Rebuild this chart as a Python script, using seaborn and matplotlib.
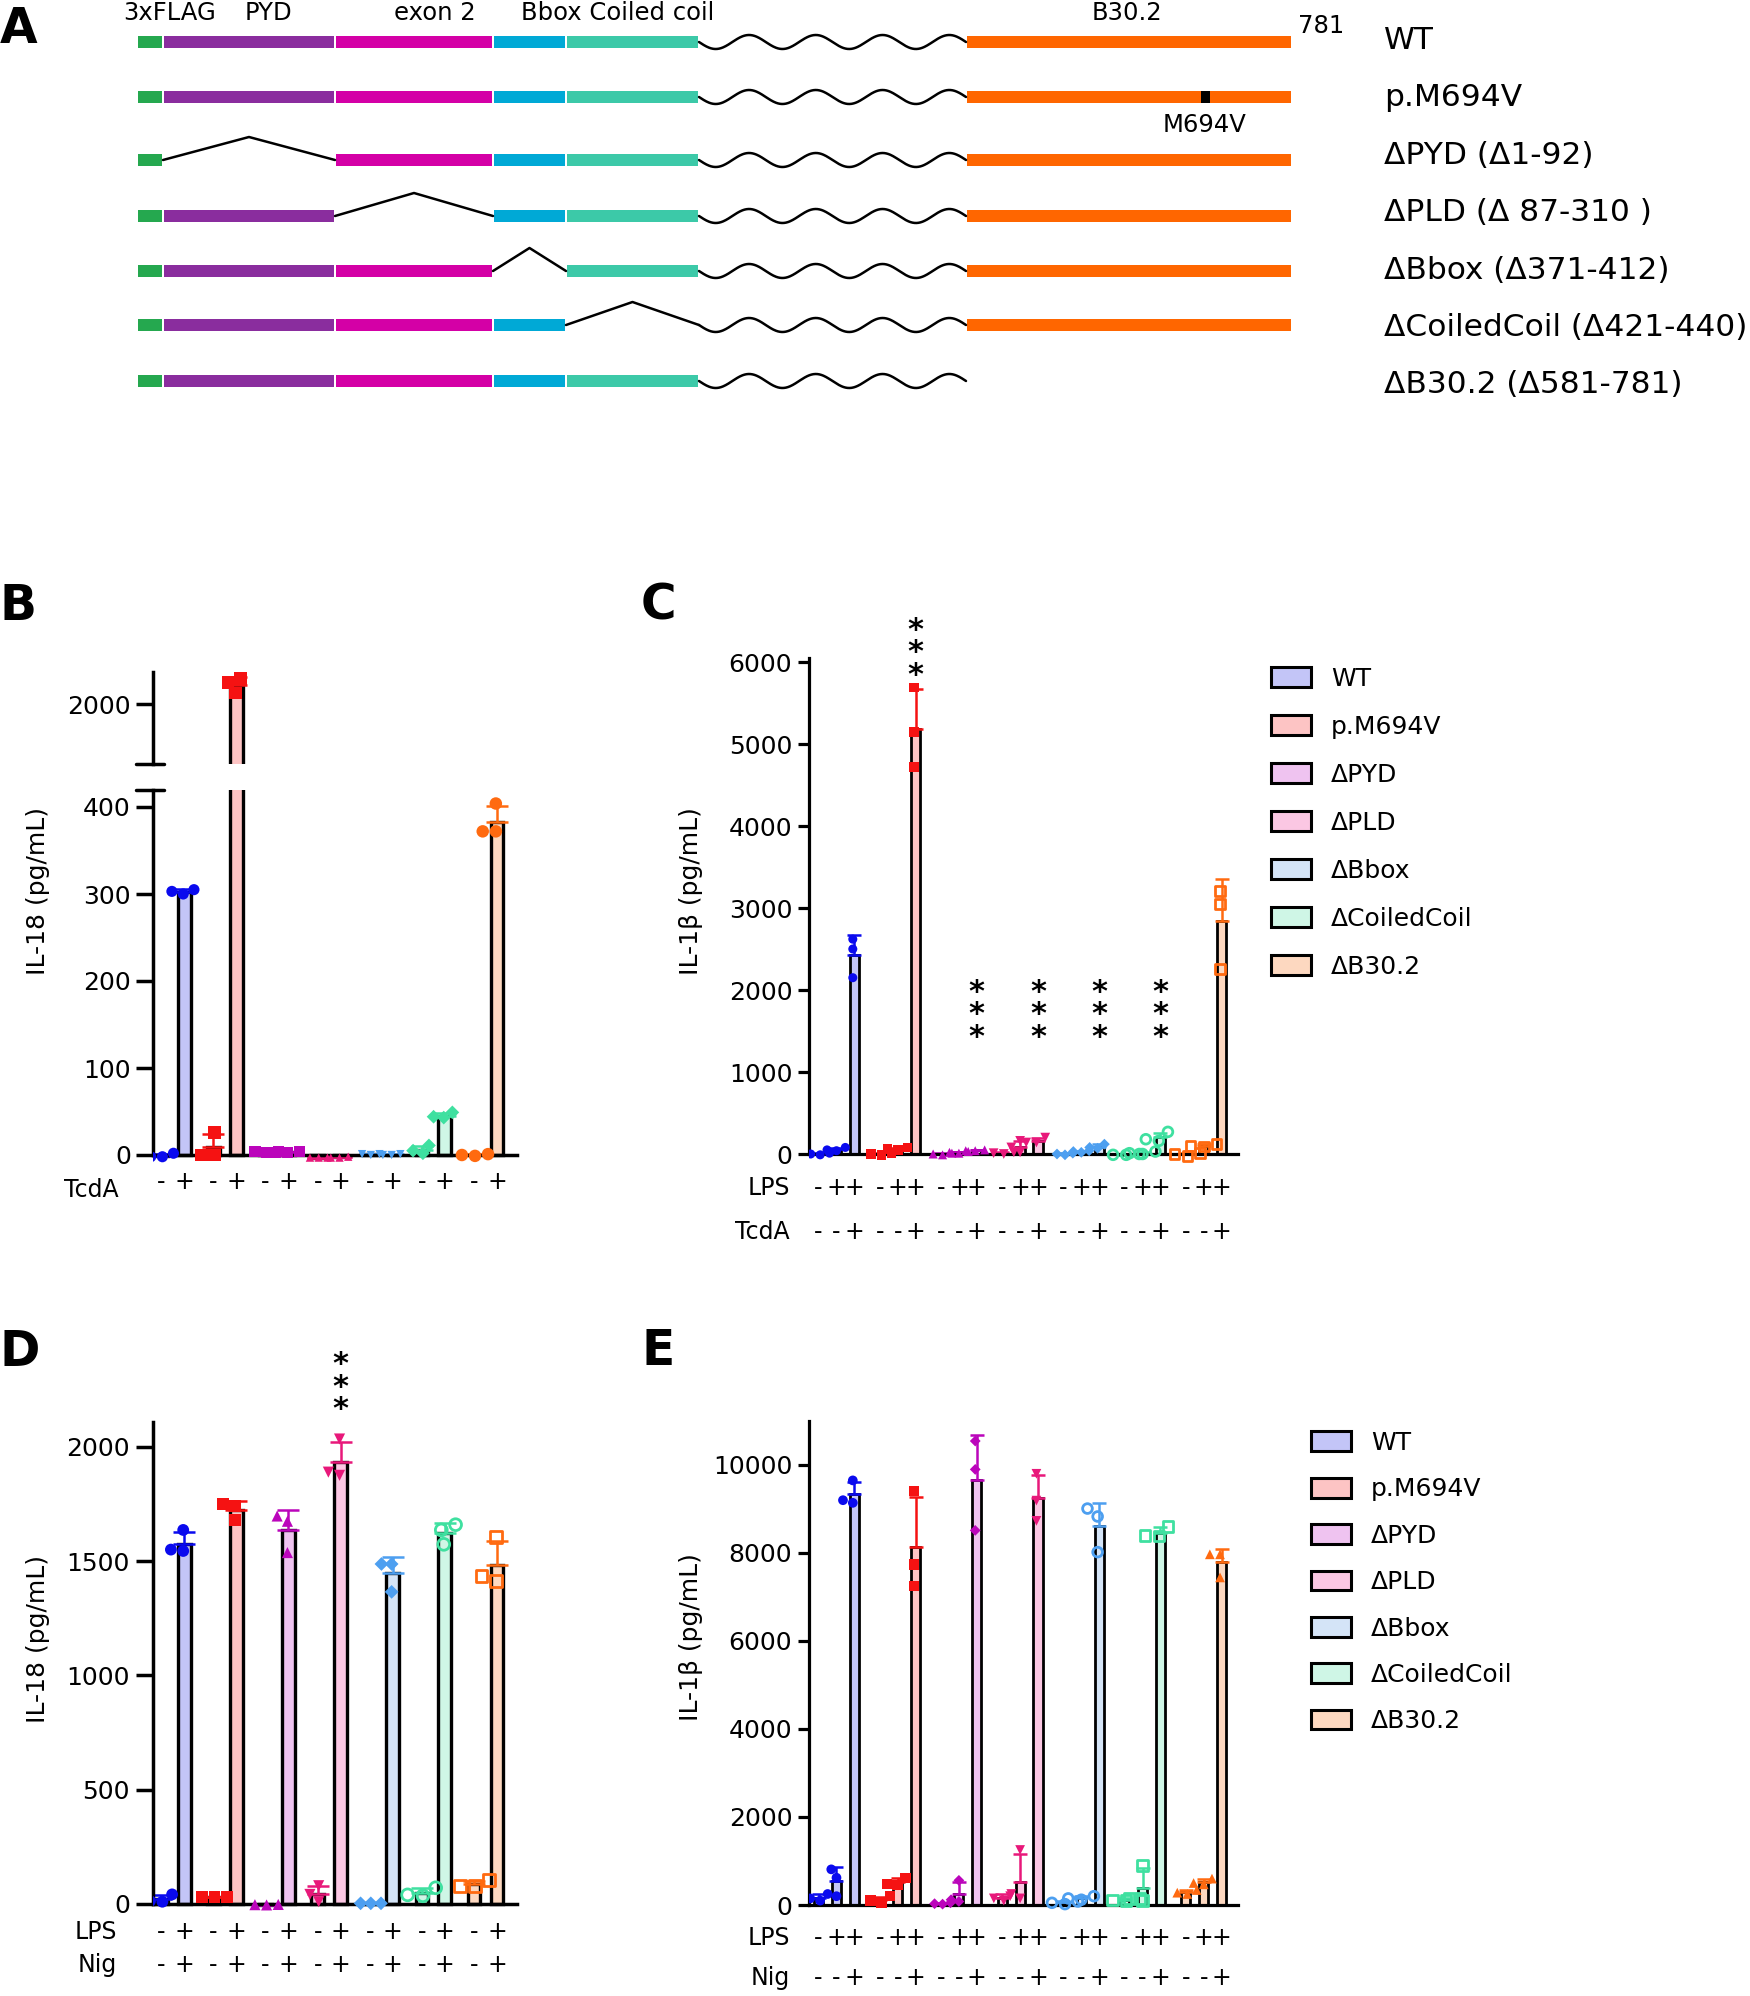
import warnings
warnings.filterwarnings("ignore")
import numpy as np
import pandas as pd
import matplotlib
matplotlib.use("Agg")
import matplotlib.pyplot as plt
import matplotlib.transforms as mtransforms
from matplotlib.patches import Patch, Rectangle
import seaborn as sns

sns.set_theme(style="ticks", rc={"axes.edgecolor": "black", "xtick.color": "black",
                                  "ytick.color": "black", "text.color": "black",
                                  "axes.labelcolor": "black"})
plt.rcParams["font.family"] = ["DejaVu Sans"]

W, H = 1750, 1996

# ---------------- shared categories / colours ----------------
constructs = ["WT", "p.M694V", "ΔPYD", "ΔPLD", "ΔBbox", "ΔCoiledCoil", "ΔB30.2"]
bar_fill = ["#c3c5f7", "#fdc4c4", "#efc3f0", "#fbc7e3", "#d4e4f7", "#cff6e6", "#fdd8c0"]
point_color = ["#0a0aee", "#f51212", "#bb05bb", "#e8187a", "#4d9ff0", "#3fe0a0", "#ff6a10"]

# ---------------- panel A (schematic) ----------------
A_labels = ["WT", "p.M694V", "ΔPYD (Δ1-92)", "ΔPLD (Δ 87-310 )", "ΔBbox (Δ371-412)",
            "ΔCoiledCoil (Δ421-440)", "ΔB30.2 (Δ581-781)"]
A_domain_colors = ["#25a84f", "#8a2d9e", "#d400a6", "#00a9d6", "#3cc9a8", None, "#ff6600"]
A_edges = [137, 163, 335, 493, 566, 699, 966, 1292]      # schematic domain boundaries
A_deleted = [None, None, 1, 2, 3, 4, 6]                    # index of deleted domain
A_mutation = 1205
A_top_labels = ["3xFLAG", "PYD", "exon 2", "Bbox Coiled coil", "B30.2"]
A_top_x = [170, 268, 435, 618, 1127]
A_length = "781"

# ---------------- panel B: IL-18, TcdA ----------------
B_treat = ["-", "+"]
B_minus = [[2, -2, -2], [26, 0, 0], [4, 4, 3], [-3, -3, -3], [1, 0, 1], [11, 5, 2], [1, 0, -1]]
B_plus = [[305, 300, 303], [2094, 2215, 2181], [3, 4, 3], [-3, -2, -3], [0, 1, 0],
          [49, 44, 43], [404, 372, 372]]

# ---------------- panel C: IL-1β, LPS + TcdA ----------------
C_LPS = ["-", "+", "+"]
C_TcdA = ["-", "-", "+"]
C_a = [[0, -10, 10], [-10, 0, 10], [-10, 0, 10], [20, 10, 0], [0, -10, 10], [-10, -10, 0], [-20, 10, 0]]
C_b = [[80, 40, 50], [80, 60, 50], [20, 10, 30], [160, 80, 20], [30, 20, 40], [30, 10, 0], [120, 90, 100]]
C_c = [[2620, 2500, 2150], [5690, 5150, 4720], [50, 40, 40], [200, 140, 140], [120, 80, 70],
       [270, 180, 160], [3210, 3050, 2260]]

# ---------------- panel D: IL-18, LPS + Nig ----------------
D_LPS = ["-", "+"]
D_Nig = ["-", "+"]
D_minus = [[42, 13, 10], [32, 30, 29], [-3, -4, -2], [80, 10, 42], [3, 3, 3], [71, 36, 40], [105, 80, 80]]
D_plus = [[1637, 1545, 1551], [1679, 1752, 1742], [1698, 1675, 1538], [1876, 1890, 2035],
          [1488, 1488, 1366], [1660, 1637, 1574], [1605, 1414, 1436]]

# ---------------- panel E: IL-1β, LPS + Nig ----------------
E_LPS = ["-", "+", "+"]
E_Nig = ["-", "-", "+"]
E_a = [[250, 100, 150], [200, 100, 50], [50, 30, 20], [250, 100, 150], [20, 50, 80], [150, 100, 120], [340, 280, 250]]
E_b = [[810, 620, 200], [620, 480, 450], [560, 120, 80], [1250, 200, 150], [200, 150, 120],
       [900, 150, 100], [600, 500, 470]]
E_c = [[9650, 9200, 9140], [9406, 7743, 7248], [10545, 9900, 8514], [9800, 9190, 8730],
       [9010, 8830, 8020], [8600, 8400, 8380], [7970, 7970, 7445]]


def long_df(groups, levels):
    rows = []
    for lvl, arr in zip(levels, groups):
        for c, vals in zip(constructs, arr):
            for v in vals:
                rows.append((c, lvl, v))
    return pd.DataFrame(rows, columns=["construct", "treat", "value"])


fig = plt.figure(figsize=(W / 100, H / 100), dpi=100)


def px_axes(left, right, y_v0, y_v1, v0, v1, ymin, ymax):
    ppu = (y_v0 - y_v1) / (v1 - v0)
    top = y_v0 - (ymax - v0) * ppu
    bottom = y_v0 + (v0 - ymin) * ppu
    ax = fig.add_axes([left / W, 1 - bottom / H, (right - left) / W, (bottom - top) / H])
    ax.set_ylim(ymin, ymax)
    return ax


def draw_panel(ax, df, levels, markers, sizes, open_idx, width, gap, bar_lw, err_lw, capsize):
    sns.barplot(data=df, x="construct", y="value", hue="treat", order=constructs, hue_order=levels,
                errorbar=None, width=width, gap=gap, palette={l: "white" for l in levels},
                edgecolor="black", linewidth=bar_lw, saturation=1, legend=False, ax=ax, zorder=1)
    pos = {}
    for j, cont in enumerate(ax.containers):
        for patch in cont:
            xc = patch.get_x() + patch.get_width() / 2
            gi = int(round(xc))
            patch.set_facecolor(bar_fill[gi])
            pos[(constructs[gi], levels[j])] = xc
    stats = df.groupby(["construct", "treat"])["value"].agg(["mean", "std"])
    for (c, t), xc in pos.items():
        m, s = stats.loc[(c, t)]
        ax.errorbar([xc], [m], yerr=[[0], [s]], fmt="none", ecolor=point_color[constructs.index(c)],
                    elinewidth=err_lw, capsize=capsize, capthick=err_lw, zorder=2)
    for ci, c in enumerate(constructs):
        sub = df[df["construct"] == c]
        n0 = len(ax.collections)
        sns.swarmplot(data=sub, x="construct", y="value", hue="treat", order=constructs,
                      hue_order=levels, dodge=True, palette={l: point_color[ci] for l in levels},
                      marker=markers[ci], size=sizes[ci], legend=False, ax=ax, zorder=3)
        if ci in open_idx:
            for coll in ax.collections[n0:]:
                coll.set_facecolor("none")
                coll.set_edgecolor(point_color[ci])
                coll.set_linewidth(2)
    ax.set_xlabel("")
    ax.set_ylabel("")
    return pos


def style_axis(ax, ticks, ymax, tick_len, spine_lw=2.5, bottom=True):
    ax.set_yticks(ticks)
    ax.set_yticklabels([str(t) for t in ticks])
    ax.tick_params(axis="y", labelsize=18, width=spine_lw, length=tick_len, pad=4)
    ax.tick_params(axis="x", length=0, labelbottom=False)
    sns.despine(ax=ax)
    ax.spines["left"].set_linewidth(spine_lw)
    ax.spines["left"].set_bounds(0 if bottom else ax.get_ylim()[0], ymax)
    if bottom:
        ax.spines["bottom"].set_position(("data", 0))
        ax.spines["bottom"].set_linewidth(spine_lw)
    else:
        ax.spines["bottom"].set_visible(False)


def under_labels(ax, pos, levels, row_labels, y_px, name, name_x, name_dy=0):
    tr = mtransforms.blended_transform_factory(ax.transData, fig.transFigure)
    for (c, t), xc in pos.items():
        ax.text(xc, 1 - y_px / H, row_labels[levels.index(t)], transform=tr,
                ha="center", va="center", fontsize=17)
    fig.text(name_x / W, 1 - (y_px + name_dy) / H, name, ha="right", va="center", fontsize=17)


def stars(ax, x, yval):
    ax.text(x, yval, "*\n*\n*", ha="center", va="center", fontsize=22, fontweight="bold",
            linespacing=0.72, clip_on=False)


# ================= Panel A =================
axA = fig.add_axes([0, 1 - 420 / H, 1, 420 / H])
axA.set_xlim(0, W)
axA.set_ylim(420, 0)
axA.axis("off")
A_row_y = [42, 97, 160, 216, 271, 325, 381]
for r, (lab, dele) in enumerate(zip(A_labels, A_deleted)):
    yc = A_row_y[r]
    for k, col in enumerate(A_domain_colors):
        x0, x1 = A_edges[k], A_edges[k + 1]
        if k == dele:
            if col is not None and k != len(A_domain_colors) - 1:
                axA.plot([x0, (x0 + x1) / 2, x1], [yc, yc - 23, yc], color="black", lw=1.8)
            continue
        if col is None:
            xs = np.linspace(x0, x1, 400)
            axA.plot(xs, yc + 7 * np.sin(2 * np.pi * 4 * (xs - x0) / (x1 - x0)), color="black", lw=1.8)
        else:
            axA.add_patch(Rectangle((x0 + 1, yc - 6), x1 - x0 - 2, 12, facecolor=col, edgecolor="none"))
    axA.text(1384, 49 + 57.4 * r, lab, fontsize=22.5, va="baseline", ha="left")
axA.add_patch(Rectangle((A_mutation - 4.5, A_row_y[1] - 6), 9, 12, facecolor="black", edgecolor="none"))
axA.text(A_mutation, 132, "M694V", fontsize=17.5, ha="center", va="baseline")
for lab, x in zip(A_top_labels, A_top_x):
    axA.text(x, 20, lab, fontsize=17.5, ha="center", va="baseline")
axA.text(1298, 33, A_length, fontsize=17.5, ha="left", va="baseline")

# ================= Panel B (broken axis) =================
dfB = long_df([B_minus, B_plus], B_treat)
mk_B = ["o", "s", "s", "^", "v", "D", "o"]
sz_B = [8, 9, 8, 6, 6, 7, 9]
axB = px_axes(153, 517, 1155, 807, 0, 400, -18, 420)
posB = draw_panel(axB, dfB, B_treat, mk_B, sz_B, set(), 0.88, 0.45, 2.4, 1.8, 8)
axB.set_xlim(-0.38, 6.606)
style_axis(axB, [0, 100, 200, 300, 400], 420, 12)

axB2 = fig.add_axes([153 / W, 1 - 764 / H, (517 - 153) / W, (764 - 672) / H])
axB2.set_ylim(1500, 2270)
draw_panel(axB2, dfB, B_treat, mk_B, sz_B, set(), 0.88, 0.45, 2.4, 1.8, 8)
axB2.set_xlim(-0.38, 6.606)
style_axis(axB2, [2000], 2270, 12, bottom=False)
for a, yy in ((axB, 1), (axB2, 0)):
    a.plot([-0.048, 0.03], [yy, yy], transform=a.transAxes, color="black", lw=2.5, clip_on=False)
under_labels(axB, posB, B_treat, B_treat, 1182, "TcdA", 119, name_dy=8)
fig.text(38 / W, 1 - 891 / H, "IL-18 (pg/mL)", rotation=90, ha="center", va="center", fontsize=18)

# ================= Panel C =================
C_levels = ["L-T-", "L+T-", "L+T+"]
dfC = long_df([C_a, C_b, C_c], C_levels)
mk_C = ["o", "s", "^", "v", "D", "o", "s"]
sz_C = [6.5, 7, 6.5, 7, 5.5, 7, 7]
axC = px_axes(809, 1238, 1154, 662, 0, 6000, -200, 6050)
posC = draw_panel(axC, dfC, C_levels, mk_C, sz_C, {5, 6}, 0.88, 0.49, 2.0, 1.8, 5)
axC.set_xlim(-0.449, 6.56)
style_axis(axC, [0, 1000, 2000, 3000, 4000, 5000, 6000], 6050, 8, spine_lw=2.3)
under_labels(axC, posC, C_levels, C_LPS, 1188, "LPS", 790)
under_labels(axC, posC, C_levels, C_TcdA, 1232, "TcdA", 790)
stars(axC, posC[("p.M694V", "L+T+")], 6110)
for c in ["ΔPYD", "ΔPLD", "ΔBbox", "ΔCoiledCoil"]:
    stars(axC, posC[(c, "L+T+")], 1700)
fig.text(691 / W, 1 - 891 / H, "IL-1β (pg/mL)", rotation=90, ha="center", va="center", fontsize=18)

# ================= Panel D =================
D_levels = ["-/-", "+/+"]
dfD = long_df([D_minus, D_plus], D_levels)
mk_D = ["o", "s", "^", "v", "D", "o", "s"]
sz_D = [8.5, 8.5, 8, 8, 7, 8.5, 8.5]
axD = px_axes(153, 517, 1904, 1447, 0, 2000, -70, 2110)
posD = draw_panel(axD, dfD, D_levels, mk_D, sz_D, {5, 6}, 0.88, 0.45, 2.4, 1.8, 8)
axD.set_xlim(-0.38, 6.606)
style_axis(axD, [0, 500, 1000, 1500, 2000], 2110, 12.5)
under_labels(axD, posD, D_levels, D_LPS, 1932, "LPS", 117)
under_labels(axD, posD, D_levels, D_Nig, 1965, "Nig", 117)
stars(axD, posD[("ΔPLD", "+/+")], 2262)
fig.text(38 / W, 1 - 1639 / H, "IL-18 (pg/mL)", rotation=90, ha="center", va="center", fontsize=18)

# ================= Panel E =================
E_levels = ["L-N-", "L+N-", "L+N+"]
dfE = long_df([E_a, E_b, E_c], E_levels)
mk_E = ["o", "s", "D", "v", "o", "s", "^"]
sz_E = [7, 7.5, 5.5, 7, 7, 7.5, 7]
axE = px_axes(809, 1238, 1905, 1465, 0, 10000, -350, 11000)
posE = draw_panel(axE, dfE, E_levels, mk_E, sz_E, {4, 5}, 0.88, 0.49, 2.0, 1.8, 5)
axE.set_xlim(-0.449, 6.56)
style_axis(axE, [0, 2000, 4000, 6000, 8000, 10000], 11000, 8, spine_lw=2.3)
under_labels(axE, posE, E_levels, E_LPS, 1938, "LPS", 790)
under_labels(axE, posE, E_levels, E_Nig, 1978, "Nig", 790)
fig.text(691 / W, 1 - 1637 / H, "IL-1β (pg/mL)", rotation=90, ha="center", va="center", fontsize=18)

# ================= legends =================
handles = [Patch(facecolor=bar_fill[i], edgecolor="black", linewidth=2.2) for i in range(len(constructs))]
for left, top, ls in ((1271, 667, 0.96), (1311, 1431, 0.895)):
    fig.legend(handles, constructs, loc="upper left", bbox_to_anchor=(left / W, 1 - top / H),
               bbox_transform=fig.transFigure, frameon=False, fontsize=18, handlelength=1.6,
               handleheight=0.84, handletextpad=0.8, labelspacing=ls, borderpad=0, borderaxespad=0)

# ================= panel letters =================
for lab, x, y in (("A", 0, 5), ("B", 0, 582), ("C", 641, 582), ("D", 0, 1328), ("E", 641, 1327)):
    fig.text(x / W, 1 - y / H, lab, fontsize=35, fontweight="bold", ha="left", va="top")

fig.savefig("out.png", dpi=100)
